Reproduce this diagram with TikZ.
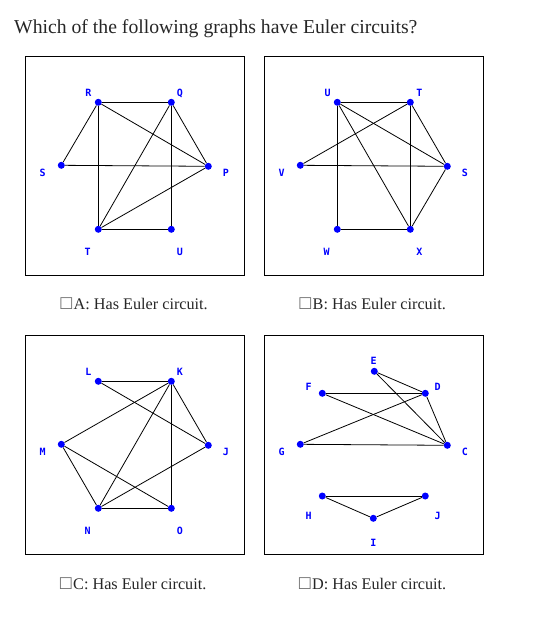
\documentclass[tikz,border=0pt]{standalone}
\usepackage{fontspec}
\setmainfont{Liberation Serif}
\newfontfamily\labelfont{DejaVu Sans Mono}
\newfontfamily\boxfont{DejaVu Sans}
\usepackage{xcolor}
\usepackage{tikz}
\usetikzlibrary{positioning}

\definecolor{vblue}{RGB}{0,0,255}
\definecolor{boxgray}{RGB}{110,110,110}

\begin{document}
\begin{tikzpicture}[
    x=1pt, y=-1pt,
    vertex/.style={circle, fill=vblue, inner sep=0pt, minimum size=7pt},
    lbl/.style={text=vblue, font=\labelfont\bfseries\fontsize{10}{10}\selectfont, inner sep=0pt},
    edge/.style={line width=0.8pt, color=black},
    panel/.style={rectangle, draw, line width=1pt, minimum width=218.7pt, minimum height=219pt, inner sep=0pt},
    title/.style={font=\fontsize{19.7}{21}\selectfont, color=black!85, inner sep=0pt},
    caption/.style={font=\fontsize{16.2}{18}\selectfont, color=black!85, inner sep=0pt},
]
\useasboundingbox (0,0) rectangle (543,621);

\node[title, anchor=base west] (ttl) at (14,33.3) {Which of the following graphs have Euler circuits?};

% panel frames
\node[panel] (boxA) at (134.7,165.5) {};
\node[panel] (boxB) at (373.7,165.5) {};
\node[panel] (boxC) at (134.7,444.5) {};
\node[panel] (boxD) at (373.7,444.5) {};

% graph A
\node[vertex] (aR) at (98.3,102.3) {};
\node[vertex] (aQ) at (171.3,102.3) {};
\node[vertex] (aS) at (61.3,165.3) {};
\node[vertex] (aP) at (208.3,166.3) {};
\node[vertex] (aT) at (98.3,229.3) {};
\node[vertex] (aU) at (171.3,229.3) {};
\node[lbl] (aRl) at (88.3,93.3) {R};
\node[lbl] (aQl) at (180,93.3) {Q};
\node[lbl] (aSl) at (42.7,172.7) {S};
\node[lbl] (aPl) at (226,173.3) {P};
\node[lbl] (aTl) at (87.7,251.7) {T};
\node[lbl] (aUl) at (180,251.7) {U};
\draw[edge] (aR) -- (aQ);
\draw[edge] (aR) -- (aS);
\draw[edge] (aR) -- (aT);
\draw[edge] (aR) -- (aP);
\draw[edge] (aQ) -- (aT);
\draw[edge] (aQ) -- (aU);
\draw[edge] (aQ) -- (aP);
\draw[edge] (aS) -- (aP);
\draw[edge] (aT) -- (aP);
\draw[edge] (aT) -- (aU);

% graph B
\node[vertex] (bU) at (337.3,102.3) {};
\node[vertex] (bT) at (410.3,102.3) {};
\node[vertex] (bV) at (300.3,165.3) {};
\node[vertex] (bS) at (447.3,166.3) {};
\node[vertex] (bW) at (337.3,229.3) {};
\node[vertex] (bX) at (410.3,229.3) {};
\node[lbl] (bUl) at (327.7,93.3) {U};
\node[lbl] (bTl) at (419.3,93.3) {T};
\node[lbl] (bVl) at (281.7,172.7) {V};
\node[lbl] (bSl) at (465,173.3) {S};
\node[lbl] (bWl) at (326.7,251.7) {W};
\node[lbl] (bXl) at (419.3,251.7) {X};
\draw[edge] (bU) -- (bT);
\draw[edge] (bU) -- (bW);
\draw[edge] (bU) -- (bS);
\draw[edge] (bU) -- (bX);
\draw[edge] (bT) -- (bV);
\draw[edge] (bT) -- (bX);
\draw[edge] (bT) -- (bS);
\draw[edge] (bV) -- (bS);
\draw[edge] (bS) -- (bX);
\draw[edge] (bW) -- (bX);

% graph C
\node[vertex] (cL) at (98.3,381.3) {};
\node[vertex] (cK) at (171.3,381.3) {};
\node[vertex] (cM) at (61.3,444.3) {};
\node[vertex] (cJ) at (208.3,445.3) {};
\node[vertex] (cN) at (98.3,508.3) {};
\node[vertex] (cO) at (171.3,508.3) {};
\node[lbl] (cLl) at (88.3,372.3) {L};
\node[lbl] (cKl) at (180,372.3) {K};
\node[lbl] (cMl) at (42.7,451.7) {M};
\node[lbl] (cJl) at (226,452.3) {J};
\node[lbl] (cNl) at (87.7,531) {N};
\node[lbl] (cOl) at (180,531) {O};
\draw[edge] (cL) -- (cK);
\draw[edge] (cL) -- (cJ);
\draw[edge] (cK) -- (cM);
\draw[edge] (cK) -- (cN);
\draw[edge] (cK) -- (cO);
\draw[edge] (cK) -- (cJ);
\draw[edge] (cM) -- (cN);
\draw[edge] (cM) -- (cO);
\draw[edge] (cN) -- (cO);
\draw[edge] (cN) -- (cJ);

% graph D
\node[vertex] (dE) at (374.3,371.3) {};
\node[vertex] (dF) at (322.3,393.3) {};
\node[vertex] (dD) at (425.3,393.3) {};
\node[vertex] (dG) at (300.3,444.3) {};
\node[vertex] (dC) at (447.3,445.3) {};
\node[vertex] (dH) at (322.3,496) {};
\node[vertex] (dJ) at (425.3,496) {};
\node[vertex] (dI) at (373.3,518.3) {};
\node[lbl] (dEl) at (373.7,360.7) {E};
\node[lbl] (dFl) at (308.7,387.3) {F};
\node[lbl] (dDl) at (437.7,387.3) {D};
\node[lbl] (dGl) at (281.7,451.7) {G};
\node[lbl] (dCl) at (465,452.3) {C};
\node[lbl] (dHl) at (308.7,516) {H};
\node[lbl] (dJl) at (437.7,516) {J};
\node[lbl] (dIl) at (373.3,542.7) {I};
\draw[edge] (dE) -- (dD);
\draw[edge] (dE) -- (dC);
\draw[edge] (dF) -- (dD);
\draw[edge] (dF) -- (dC);
\draw[edge] (dD) -- (dG);
\draw[edge] (dD) -- (dC);
\draw[edge] (dG) -- (dC);
\draw[edge] (dH) -- (dJ);
\draw[edge] (dH) -- (dI);
\draw[edge] (dI) -- (dJ);

% answer lines
\node[caption, anchor=base west] (capA) at (59,309) {{\boxfont\textcolor{boxgray}{☐}}A: Has Euler circuit.};
\node[caption, anchor=base west] (capB) at (298,309) {{\boxfont\textcolor{boxgray}{☐}}B: Has Euler circuit.};
\node[caption, anchor=base west] (capC) at (58.5,589) {{\boxfont\textcolor{boxgray}{☐}}C: Has Euler circuit.};
\node[caption, anchor=base west] (capD) at (297.5,589) {{\boxfont\textcolor{boxgray}{☐}}D: Has Euler circuit.};

\end{tikzpicture}
\end{document}
